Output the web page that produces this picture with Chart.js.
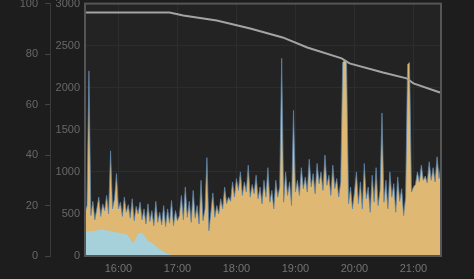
<!DOCTYPE html>
<html><head><meta charset="utf-8">
<script src="https://cdn.jsdelivr.net/npm/chart.js@4"></script>
<style>
html,body{margin:0;padding:0;background:#1d1d1d;overflow:hidden;width:474px;height:279px}
#wrap{position:absolute;left:0;top:-10px;width:474px;height:289px}
</style></head><body>
<div id="wrap"><canvas id="c"></canvas></div>
<script>
// sampling of the area series
const sampleStart = '15:26';
const sampleStepMin = 2;
// light-blue series (ends at 17:0x)
const blueVals = [290,295,290,300,295,300,305,310,310,315,310,305,300,295,290,285,280,
  275,270,272,265,260,240,200,160,170,215,265,275,270,250,215,180,170,160,140,120,100,80,65,50,40,30,20,12,5,0];
// tan total series
const totalVals = [
  520,600,2200,480,650,430,560,700,470,620,540,720,500,1250,560,680,980,
  560,640,470,700,520,610,450,680,420,590,500,640,430,560,380,620,410,540,360,650,400,520,370,600,350,560,390,660,360,540,420,
  480,720,430,820,460,650,400,780,450,600,380,900,420,560,1170,300,520,750,460,600,500,680,560,820,620,700,650,880,700,920,
  780,1000,720,880,760,1080,700,850,740,960,680,820,620,900,700,1050,640,780,560,900,700,820,2350,640,1000,720,880,600,1730,760,
  900,720,1050,800,940,760,1150,820,980,740,1100,860,1000,780,1200,840,960,720,1080,800,920,700,880,2300,2330,2300,620,820,560,760,
  1000,620,880,560,1100,680,820,520,960,640,1050,600,780,1700,640,900,560,1000,700,860,520,940,650,800,480,700,2280,2300,760,820,
  850,1000,880,1080,900,950,870,1120,900,1050,880,1180,920,1100];
// gray line (left axis, %)
const lineTimes = ['15:26','16:52','17:06','17:40','18:14','18:47','19:12','19:47','19:55','20:29','20:53','21:00','21:27'];
const lineVals = [96.5,96.5,95.3,93.3,90.1,86.6,82.6,78.3,76.3,72.7,70.4,68.4,64.8];
// ticks
const hourLabels = ['16:00','17:00','18:00','19:00','20:00','21:00'];
const rightTicks = [0,500,1000,1500,2000,2500,3000];
const leftTicks = [0,20,40,60,80,100];
const xMinLabel = '15:26', xMaxLabel = '21:28';

function toMin(s){const p=s.split(':').map(Number);return p[0]*60+p[1];}
function fmt(v){const h=Math.floor(v/60),m=v%60;return h+':'+(m<10?'0':'')+m;}
const t0 = toMin(sampleStart);
const bluePts = blueVals.map((v,i)=>({x:t0+i*sampleStepMin,y:v}));
const totalPts = totalVals.map((v,i)=>({x:t0+i*sampleStepMin,y:v}));
const linePts = lineVals.map((v,i)=>({x:toMin(lineTimes[i]),y:v}));

const bgPlugin = {
  id:'bg',
  beforeDraw(ch){const a=ch.chartArea,c=ch.ctx;c.save();c.fillStyle='#232323';c.fillRect(a.left,a.top,a.right-a.left,a.bottom-a.top);c.restore();},
  afterDatasetsDraw(ch){const a=ch.chartArea,c=ch.ctx;c.save();c.strokeStyle='#555';c.lineWidth=2;c.strokeRect(a.left,a.top,a.right-a.left,a.bottom-a.top);c.restore();}
};
const font = {family:'"Liberation Sans", Arial, sans-serif', size:11};
new Chart(document.getElementById('c'),{
  type:'line',
  data:{datasets:[
    {data:linePts,yAxisID:'yPct',borderColor:'#a4a4a4',borderWidth:2,pointRadius:0,fill:false,order:0},
    {data:bluePts,yAxisID:'y',borderWidth:0,borderColor:'rgba(0,0,0,0)',backgroundColor:'#a6d0da',pointRadius:0,fill:'origin',order:1},
    {data:totalPts,yAxisID:'y',borderWidth:1,borderColor:'rgba(90,135,180,0.75)',backgroundColor:'#dfb873',pointRadius:0,fill:'origin',order:2}
  ]},
  options:{
    responsive:true,maintainAspectRatio:false,animation:false,
    layout:{padding:{left:0,right:33,top:0,bottom:3}},
    plugins:{legend:{display:false},tooltip:{enabled:false}},
    elements:{line:{tension:0}},
    scales:{
      x:{type:'linear',min:toMin(xMinLabel),max:toMin(xMaxLabel),
        afterBuildTicks:s=>{s.ticks=hourLabels.map(l=>({value:toMin(l)}));},
        afterFit:s=>{s.height=20;},
        ticks:{callback:v=>fmt(v),color:'#737373',font,padding:6,maxRotation:0},
        grid:{color:'#2d2d2d',drawTicks:false},border:{color:'#555',width:2}},
      y:{position:'left',weight:0,min:0,max:3000,
        afterBuildTicks:s=>{s.ticks=rightTicks.map(v=>({value:v}));},
        afterFit:s=>{s.width=35;},
        ticks:{callback:v=>String(v),color:'#686868',font,padding:5},
        grid:{color:'#2d2d2d',drawTicks:false},border:{color:'#555',width:2}},
      yPct:{position:'left',weight:1,min:0,max:100,
        afterBuildTicks:s=>{s.ticks=leftTicks.map(v=>({value:v}));},
        afterFit:s=>{s.width=50;},
        ticks:{callback:v=>String(v),color:'#686868',font,padding:7},
        grid:{drawOnChartArea:false,drawTicks:true,tickLength:5,color:'#444'},border:{color:'#3a3a3a',width:1}}
    }
  },
  plugins:[bgPlugin]
});
</script>
</body></html>
